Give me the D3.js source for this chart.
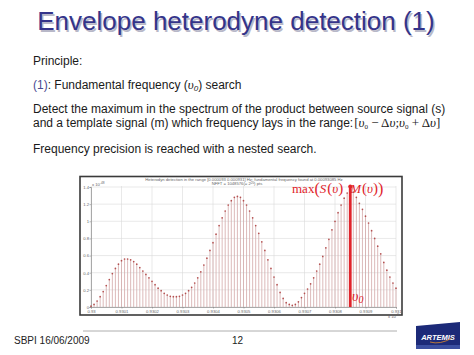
<!DOCTYPE html>
<html><head><meta charset="utf-8">
<script src="https://cdn.jsdelivr.net/npm/d3@7"></script>
<style>body{margin:0;background:#fff}svg{display:block}</style>
</head><body>
<svg id="c" width="474" height="355"></svg>
<script>
// ---- data ----
const xTickValues = [0.93,0.9301,0.9302,0.9303,0.9304,0.9305,0.9306,0.9307,0.9308,0.9309,0.931];
const xTickLabels = ["0.93","0.9301","0.9302","0.9303","0.9304","0.9305","0.9306","0.9307","0.9308","0.9309","0.931"];
const yTickValues = [0,0.2,0.4,0.6,0.8,1,1.2,1.4];
const yTickLabels = ["0","0.2","0.4","0.6","0.8","1","1.2","1.4"];
const frequencies = [
0.93000,0.93001,0.93002,0.93003,0.93004,0.93005,0.93006,0.93007,0.93008,0.93009,
0.93010,0.93011,0.93012,0.93013,0.93014,0.93015,0.93016,0.93017,0.93018,0.93019,
0.93020,0.93021,0.93022,0.93023,0.93024,0.93025,0.93026,0.93027,0.93028,0.93029,
0.93030,0.93031,0.93032,0.93033,0.93034,0.93035,0.93036,0.93037,0.93038,0.93039,
0.93040,0.93041,0.93042,0.93043,0.93044,0.93045,0.93046,0.93047,0.93048,0.93049,
0.93050,0.93051,0.93052,0.93053,0.93054,0.93055,0.93056,0.93057,0.93058,0.93059,
0.93060,0.93061,0.93062,0.93063,0.93064,0.93065,0.93066,0.93067,0.93068,0.93069,
0.93070,0.93071,0.93072,0.93073,0.93074,0.93075,0.93076,0.93077,0.93078,0.93079,
0.93080,0.93081,0.93082,0.93083,0.93084,0.93085,0.93086,0.93087,0.93088,0.93089,
0.93090,0.93091,0.93092,0.93093,0.93094,0.93095,0.93096,0.93097,0.93098,0.93099,
0.93100];
const amplitudes = [
0.01,0.03,0.07,0.12,0.18,0.25,0.32,0.39,0.45,0.50,
0.54,0.56,0.56,0.55,0.53,0.50,0.46,0.42,0.38,0.34,
0.30,0.26,0.22,0.19,0.16,0.14,0.125,0.12,0.12,0.125,
0.14,0.16,0.19,0.23,0.28,0.34,0.41,0.49,0.57,0.66,
0.75,0.85,0.95,1.04,1.12,1.19,1.24,1.28,1.29,1.28,
1.24,1.19,1.12,1.04,0.95,0.86,0.76,0.66,0.55,0.45,
0.35,0.26,0.17,0.10,0.05,0.03,0.02,0.03,0.06,0.11,
0.16,0.21,0.27,0.34,0.42,0.50,0.59,0.69,0.79,0.90,
1.00,1.10,1.19,1.27,1.33,1.37,1.34,1.28,1.21,1.14,
1.06,0.98,0.89,0.80,0.71,0.62,0.52,0.43,0.35,0.28,
0.22];
const peakFrequency = 0.93085;

// ---- drawing ----
const svg = d3.select("#c");
const SANS = "'Liberation Sans', Arial, sans-serif";
const SERIF = "'Liberation Serif', 'Times New Roman', serif";

// Title with shadow
svg.append("text").attr("x", 237.5).attr("y", 31.5).attr("text-anchor","middle")
  .attr("font-family", SANS).attr("font-size", 26).attr("fill", "#b8b8c8")
  .text("Envelope heterodyne detection (1)");
svg.append("text").attr("x", 236).attr("y", 30).attr("text-anchor","middle")
  .attr("font-family", SANS).attr("font-size", 26).attr("fill", "#34348a")
  .text("Envelope heterodyne detection (1)");

const body = svg.append("g").attr("font-family", SANS).attr("font-size", 12).attr("fill", "#1a1a1a");
body.append("text").attr("x", 33).attr("y", 65).text("Principle:");
const l2 = body.append("text").attr("x", 33).attr("y", 89);
l2.append("tspan").attr("fill", "#4a4a92").text("(1)");
l2.append("tspan").text(": Fundamental frequency (");
l2.append("tspan").attr("font-family", SERIF).attr("font-style","italic").attr("font-size", 13).text("υ");
l2.append("tspan").attr("font-style","italic").attr("font-size", 8).attr("dy", 2).text("0");
l2.append("tspan").attr("dy", -2).text(") search");
body.append("text").attr("x", 33).attr("y", 113)
  .text("Detect the maximum in the spectrum of the product between source signal (s)");
const l4 = body.append("text").attr("x", 33).attr("y", 127);
l4.append("tspan").text("and a template signal (m) which frequency lays in the range:");
const m = l4.append("tspan").attr("font-family", SERIF).attr("font-size", 13);
m.append("tspan").attr("dx", 1).text("[");
m.append("tspan").attr("font-style","italic").text("υ");
m.append("tspan").attr("font-size", 7).attr("dy", 2).text("0");
m.append("tspan").attr("dy", -2).text(" − Δ");
m.append("tspan").attr("font-style","italic").text("υ");
m.append("tspan").text(";");
m.append("tspan").attr("font-style","italic").text("υ");
m.append("tspan").attr("font-size", 7).attr("dy", 2).text("0");
m.append("tspan").attr("dy", -2).text(" + Δ");
m.append("tspan").attr("font-style","italic").text("υ");
m.append("tspan").text("]");
body.append("text").attr("x", 33).attr("y", 153)
  .text("Frequency precision is reached with a nested search.");

// Chart image frame
svg.append("rect").attr("x", 80).attr("y", 176.5).attr("width", 322).attr("height", 138.5)
  .attr("fill", "#fff").attr("stroke", "#3a3a3a").attr("stroke-width", 1.6);

const x = d3.scaleLinear().domain([0.93, 0.931]).range([91, 396]);
const y = d3.scaleLinear().domain([0, 1.4]).range([307, 187]);

const grid = svg.append("g").attr("stroke", "#dadada").attr("stroke-width", 0.6);
grid.selectAll("line.v").data(xTickValues).join("line").attr("class","v")
  .attr("x1", d => x(d)).attr("x2", d => x(d)).attr("y1", 186).attr("y2", 307);
grid.selectAll("line.h").data(yTickValues).join("line").attr("class","h")
  .attr("x1", 91).attr("x2", 396).attr("y1", d => y(d)).attr("y2", d => y(d));

const yAxis = svg.append("g").attr("transform", "translate(91,0)")
  .call(d3.axisLeft(y).tickValues(yTickValues).tickSize(1.5).tickFormat((d,i) => yTickLabels[i]));
const xAxis = svg.append("g").attr("transform", "translate(0,307)")
  .call(d3.axisBottom(x).tickValues(xTickValues).tickSize(1.5).tickFormat((d,i) => xTickLabels[i]));
[yAxis, xAxis].forEach(a => {
  a.selectAll("path").attr("stroke", "#888").attr("stroke-width", 0.7);
  a.selectAll("line").attr("stroke", "#888").attr("stroke-width", 0.6);
  a.selectAll("text").attr("font-family", SANS).attr("font-size", 4.2).attr("fill", "#666");
});
yAxis.selectAll("text").attr("x", -2);
xAxis.selectAll("text").attr("y", 3);

svg.append("text").attr("x", 92).attr("y", 186).attr("font-family", SANS).attr("font-size", 4.2)
  .attr("fill", "#666").text("x 10").append("tspan").attr("dy", -2).attr("font-size", 3.2).text("-48");
svg.append("text").attr("x", 388).attr("y", 318).attr("font-family", SANS).attr("font-size", 4.2)
  .attr("fill", "#666").text("x 10").append("tspan").attr("dy", -2).attr("font-size", 3.2).text("-3");

// tiny chart title
svg.append("text").attr("x", 244).attr("y", 180.5).attr("text-anchor","middle")
  .attr("font-family", SANS).attr("font-size", 4.2).attr("fill", "#666")
  .text("Heterodyn detection in the range [0.000093 0.000931] Hz; fundamental frequency found at 0.00093085 Hz");
svg.append("text").attr("x", 237).attr("y", 185).attr("text-anchor","middle")
  .attr("font-family", SANS).attr("font-size", 4.2).attr("fill", "#666")
  .text("NFFT = 1048576(= 2").append("tspan").attr("dy",-1.5).attr("font-size",3).text("20")
  .select(function(){return this.parentNode;}).append("tspan").attr("dy",1.5).text(") pts");

// stems
const pts = frequencies.map((f, i) => ({f, a: amplitudes[i]}));
svg.append("g").selectAll("line").data(pts).join("line")
  .attr("x1", d => x(d.f)).attr("x2", d => x(d.f))
  .attr("y1", y(0)).attr("y2", d => y(d.a))
  .attr("stroke", "#d3a8a8").attr("stroke-width", 0.8);
svg.append("g").selectAll("circle").data(pts).join("circle")
  .attr("cx", d => x(d.f)).attr("cy", d => y(d.a)).attr("r", 0.85)
  .attr("fill", "#b45050");

// red annotation
const red = "#e0232b";
svg.append("line").attr("x1", x(peakFrequency)).attr("x2", x(peakFrequency))
  .attr("y1", 186).attr("y2", 307).attr("stroke", red).attr("stroke-width", 2.8);
svg.append("circle").attr("cx", x(peakFrequency)).attr("cy", 186.5).attr("r", 2).attr("fill", red);
const mx = svg.append("text").attr("x", 292).attr("y", 193).attr("font-family", SERIF)
  .attr("font-size", 13).attr("fill", red);
mx.append("tspan").text("max");
mx.append("tspan").attr("font-size", 16).attr("dy", 1).text("(");
mx.append("tspan").attr("font-style","italic").attr("dy", -1).text("S");
mx.append("tspan").attr("font-size", 15).attr("dx", 1).text("(");
mx.append("tspan").attr("font-style","italic").text("υ");
mx.append("tspan").attr("font-size", 15).text(")");
mx.append("tspan").attr("dx", 7).attr("font-style","italic").text("M");
mx.append("tspan").attr("font-size", 15).attr("dx", 1).text("(");
mx.append("tspan").attr("font-style","italic").text("υ");
mx.append("tspan").attr("font-size", 15).text(")");
mx.append("tspan").attr("font-size", 16).attr("dy", 1).text(")");
const nu = svg.append("text").attr("x", 352).attr("y", 301).attr("font-family", SERIF)
  .attr("font-size", 14).attr("font-style","italic").attr("fill", red);
nu.append("tspan").text("υ");
nu.append("tspan").attr("font-size", 10).attr("dy", 2).text("0");

// footer
svg.append("line").attr("x1", 83).attr("x2", 397).attr("y1", 331).attr("y2", 331)
  .attr("stroke", "#999").attr("stroke-width", 0.8);
svg.append("text").attr("x", 14).attr("y", 344).attr("font-family", SANS).attr("font-size", 10)
  .attr("fill", "#222").text("SBPI 16/06/2009");
svg.append("text").attr("x", 232).attr("y", 344).attr("font-family", SANS).attr("font-size", 10)
  .attr("fill", "#222").text("12");

// logo
const logo = svg.append("g");
logo.append("path").attr("d", "M416,326 L460,322 L460,349 L416,349 Z").attr("fill", "#1c2a78");
logo.append("path").attr("d", "M416,345 L460,345 L460,349 L416,349 Z").attr("fill", "#3b4fa0");
logo.append("text").attr("x", 438).attr("y", 340).attr("text-anchor","middle")
  .attr("font-family", SANS).attr("font-size", 7.5).attr("font-weight","bold").attr("font-style","italic")
  .attr("fill", "#fff").text("ARTEMIS");
logo.append("path").attr("d", "M430,342 Q440,345 452,338").attr("fill","none")
  .attr("stroke","#e08a2a").attr("stroke-width",0.8);
</script>
</body></html>
